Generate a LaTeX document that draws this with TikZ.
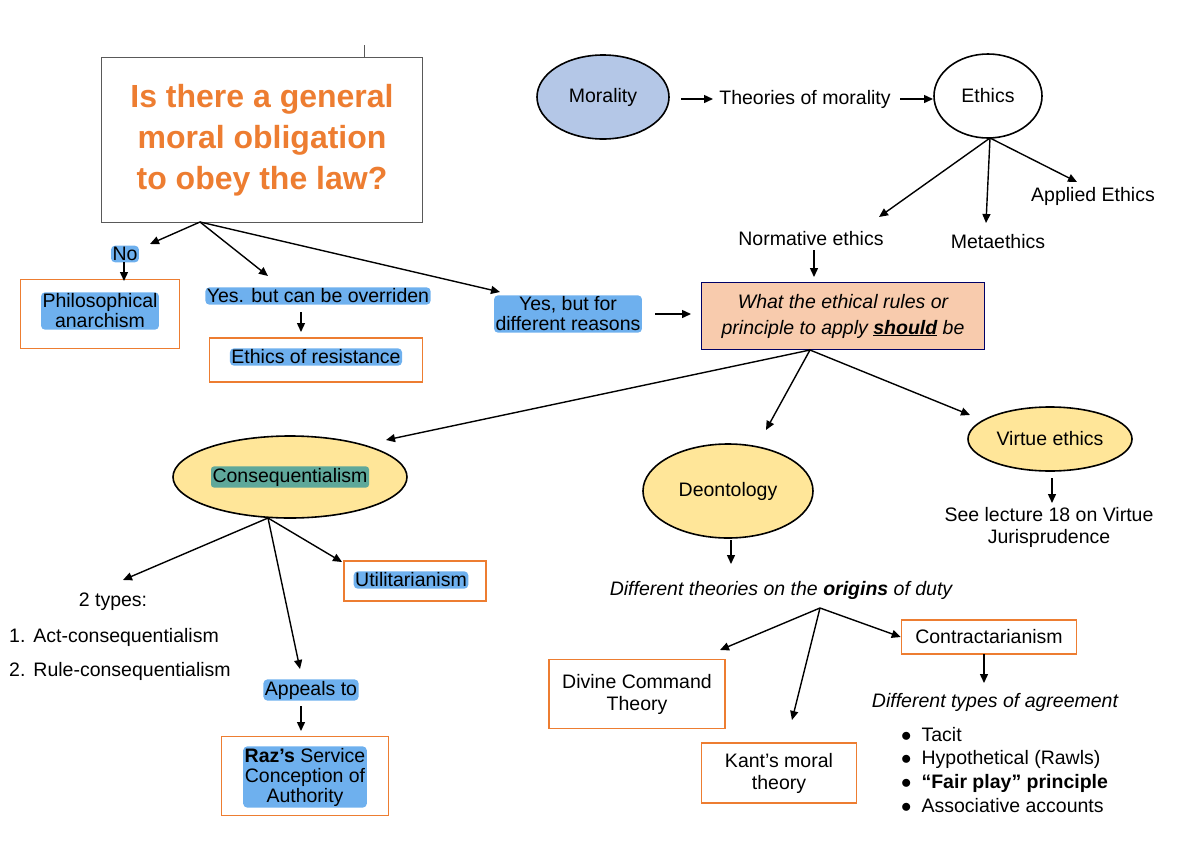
\documentclass[tikz,border=0pt]{standalone}
\usepackage{fontspec}
\setmainfont{Liberation Sans}
\usetikzlibrary{shapes.geometric,arrows.meta}
\definecolor{hl}{HTML}{6EB0EE}
\definecolor{org}{HTML}{ED7D31}
\definecolor{peach}{HTML}{F8CBAD}
\definecolor{mblue}{HTML}{B4C7E7}
\definecolor{yel}{HTML}{FFE699}
\definecolor{teal2}{HTML}{5FA89A}
\begin{document}
\begin{tikzpicture}[x=1pt,y=-1pt,
  every node/.style={font=\fontsize{19.5}{22}\selectfont, inner sep=1pt},
  arr/.style={-{Triangle[length=9pt,width=8pt]}, line width=1.4pt},
  hlt/.style={fill=hl, rounded corners=4pt, inner sep=1.5pt},
  obox/.style={draw=org, line width=1.6pt, minimum width=#1, minimum height=30pt},
  ell/.style={ellipse, draw=black, line width=1.6pt}]
\useasboundingbox (0,0) rectangle (1200,849);
% title
\coordinate (t1) at (364,45); \coordinate (t2) at (364,57);
\draw[gray!70!black] (t1) -- (t2);
\node[draw=gray!70!black, line width=1.2pt, minimum width=321pt, minimum height=165pt, align=center,
  font=\fontsize{32}{41}\selectfont\bfseries, text=org] (title) at (262,140)
  {Is there a general\\moral obligation\\to obey the law?};
\coordinate (tb) at (200,222);
\node[hlt] (no) at (125,254) {No};
\node[obox=159pt, minimum height=69pt] (pa) at (100,314) {};
\node[hlt, align=center] at (100,311) {Philosophical\\[-2pt]anarchism};
\node[hlt] (yo) at (318,296) {Yes. but can be overriden};
\node[obox=213pt, minimum height=44pt] (er) at (316,360) {};
\node[hlt] at (316,357) {Ethics of resistance};
\node[hlt, align=center] (yd) at (568,314) {Yes, but for\\[-2pt]different reasons};
\draw[arr] (tb) -- (150,244);
\draw[arr] (tb) -- (268,276);
\draw[arr] (tb) -- (500,292);
\draw[arr] (124,262) -- (124,281);
\draw[arr] (301,312) -- (301,332);
\draw[arr] (655,314) -- (691,314);
% morality
\node[ell, fill=mblue, minimum width=132pt, minimum height=84pt] (mor) at (603,97) {Morality};
\node (tm) at (805,99) {Theories of morality};
\node[ell, fill=white, minimum width=108pt, minimum height=84pt] (eth) at (988,96) {Ethics};
\draw[arr] (681,99) -- (713,99);
\draw[arr] (900,99) -- (933,99);
\node (ne) at (811,239) {Normative ethics};
\node (me) at (998,242) {Metaethics};
\node (ae) at (1093,196) {Applied Ethics};
\coordinate (eb) at (990,138);
\draw[arr] (eb) -- (879,217);
\draw[arr] (eb) -- (986,223);
\draw[arr] (eb) -- (1077,182);
\node[draw=blue!40!black, fill=peach, line width=1.2pt, minimum width=283pt, minimum height=67pt,
  align=center, font=\fontsize{19.5}{26}\selectfont\itshape] (pb) at (843,316)
  {What the ethical rules or\\principle to apply \underline{\textbf{should}} be};
\draw[arr] (814,250) -- (814,277);
\coordinate (pbb) at (810,350);
% ellipses
\node[ell, fill=yel, minimum width=234pt, minimum height=82pt] (con) at (290,477) {};
\node[fill=teal2, rounded corners=3pt, inner sep=1.5pt] at (290,477) {Consequentialism};
\node[ell, fill=yel, minimum width=170pt, minimum height=94pt] (deo) at (728,491) {Deontology};
\node[ell, fill=yel, minimum width=164pt, minimum height=64pt] (vir) at (1050,439) {Virtue ethics};
\draw[arr] (pbb) -- (386,440);
\draw[arr] (pbb) -- (766,430);
\draw[arr] (pbb) -- (970,415);
\node[align=center] (see) at (1049,527) {See lecture 18 on Virtue\\Jurisprudence};
\draw[arr] (1052,478) -- (1052,503);
\node[font=\fontsize{19.5}{22}\selectfont\itshape] (dt) at (781,590) {Different theories on the \textbf{origins} of duty};
\draw[arr] (731,540) -- (731,564);
\coordinate (dtb) at (820,608);
\node[obox=176pt, minimum height=69pt, align=center] (div) at (637,694) {Divine Command\\Theory};
\node[obox=155pt, minimum height=60pt, align=center] (kant) at (779,773) {Kant's moral\\theory};
\node[obox=175pt, minimum height=34pt] (ctr) at (989,637) {Contractarianism};
\draw[arr] (dtb) -- (720,650);
\draw[arr] (dtb) -- (792,720);
\draw[arr] (dtb) -- (ctr.west);
\draw[arr] (984,654) -- (984,683);
\node[font=\fontsize{19.5}{22}\selectfont\itshape] (dta) at (995,702) {Different types of agreement};
\foreach \y/\t in {735/Tacit, 758/Hypothetical (Rawls), 782/{\textbf{``Fair play'' principle}}, 806/Associative accounts}{
  \node[anchor=base west] at (900,\y+6) {$\bullet$\hspace{10pt}\t};}
% consequentialism children
\coordinate (cb) at (268,518);
\node (tt) at (113,602) {2 types:};
\node[anchor=west] at (8,637) {1.\hspace{8pt}Act-consequentialism};
\node[anchor=west] at (8,671) {2.\hspace{8pt}Rule-consequentialism};
\node[obox=142pt, minimum height=40pt] (ut) at (415,581) {};
\node[hlt] at (411,580) {Utilitarianism};
\node[hlt] (ap) at (311,690) {Appeals to};
\draw[arr] (cb) -- (123,580);
\draw[arr] (cb) -- (342,562);
\draw[arr] (cb) -- (300,669);
\node[obox=167pt, minimum height=79pt] (raz) at (305,776) {};
\node[hlt, align=center] at (305,777) {\textbf{Raz's} Service\\[-2pt]Conception of\\[-2pt]Authority};
\draw[arr] (301,706) -- (301,731);
\end{tikzpicture}
\end{document}
